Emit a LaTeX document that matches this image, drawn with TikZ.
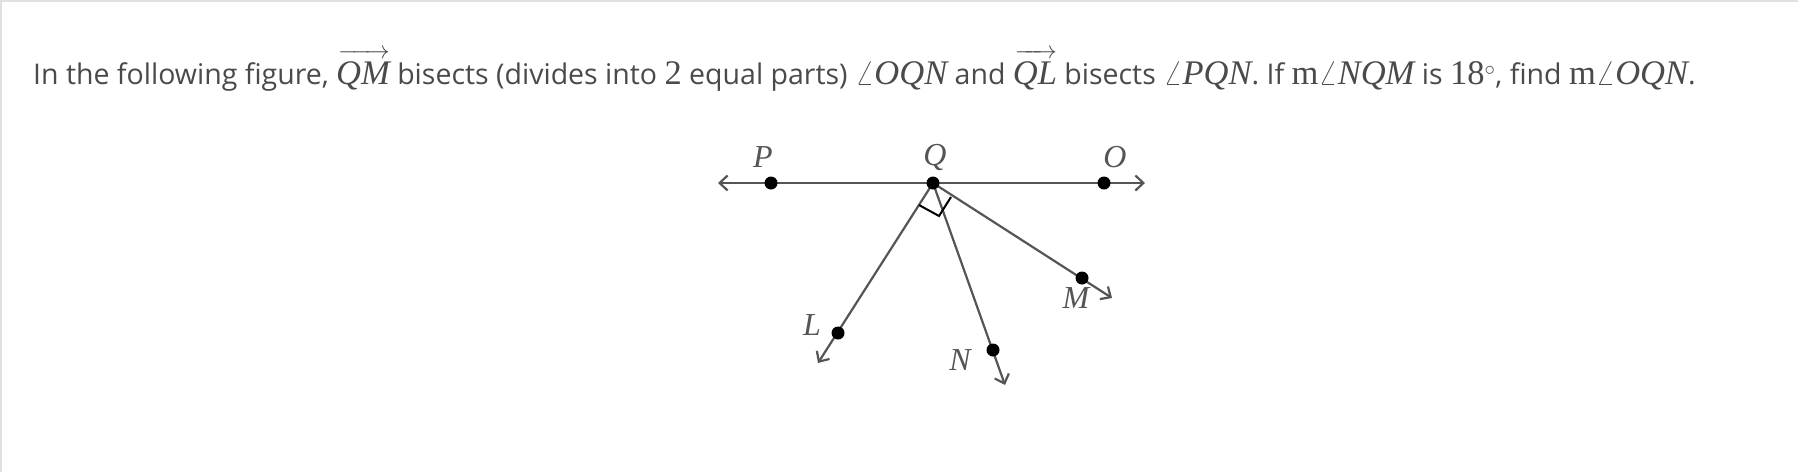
\documentclass[tikz,border=0pt]{standalone}
\usepackage{fontspec}
\setmainfont{Open Sans}
\newfontfamily\mf{Liberation Serif}
\usetikzlibrary{arrows.meta}
\definecolor{ink}{HTML}{555555}
\definecolor{txt}{HTML}{4A4A4A}
\newcommand{\mz}{\fontsize{34.5}{34.5}\selectfont}
\newcommand{\mi}[1]{{\mz\mf\itshape #1}}
\newcommand{\mr}[1]{{\mz\mf #1}}
\newcommand{\ang}{{\mz$\angle$}}
\newcommand{\vray}[1]{\setbox0\hbox{\mi{#1}}\rlap{\raisebox{1.15\ht0}{\hbox to \wd0{\hskip2pt\rightarrowfill}}}\box0\relax}
\begin{document}
\begin{tikzpicture}[x=1pt,y=-1pt,
  ray/.style={draw=ink,line width=2.2pt,-{Straight Barb[length=8pt,width=15pt,line width=2.2pt]}},
  dot/.style={circle,fill=black,inner sep=0pt,minimum size=13pt},
  lab/.style={text=ink,font=\fontsize{32}{32}\mf\itshape,inner sep=0pt}]
\useasboundingbox (0,0) rectangle (1798,472);
\draw[black!12,line width=1.5pt] (0.75,472) -- (0.75,0.75) -- (1798,0.75);
\node[anchor=west,text=txt,font=\fontsize{28.5}{32}\selectfont,inner sep=0pt] (t) at (33,70)
 {In the following figure, \vray{QM}\ bisects (divides into \mr{2} equal parts) \ang\mi{OQN} and \vray{QL}\ bisects \ang\mi{PQN}. If \mr{m}\ang\mi{NQM} is \mr{18}$^{\circ}$, find \mr{m}\ang\mi{OQN}.};
\coordinate (Q) at (933,183);
\coordinate (P) at (771,183);
\coordinate (O) at (1104,183);
\coordinate (L) at (838,333);
\coordinate (N) at (993,350);
\coordinate (M) at (1082,278);
\coordinate (lt) at (718,183);
\coordinate (rt) at (1145,183);
\coordinate (Lt) at (818,363);
\coordinate (Nt) at (1005,385);
\coordinate (Mt) at (1112,298);
\draw[ray] (Q) -- (lt);
\draw[ray] (Q) -- (rt);
\draw[ray] (Q) -- (Lt);
\draw[ray] (Q) -- (Nt);
\draw[ray] (Q) -- (Mt);
\draw[black,line width=2pt] (919,205) -- (939,216) -- (951,197);
\foreach \p in {Q,P,O,L,N,M} \node[dot] at (\p) {};
\node[lab] (lP) at (763,157) {P};
\node[lab] (lQ) at (935,157) {Q};
\node[lab] (lO) at (1115,157) {O};
\node[lab] (lL) at (812,325) {L};
\node[lab] (lN) at (960,360) {N};
\node[lab] (lM) at (1076,298) {M};
\end{tikzpicture}
\end{document}
